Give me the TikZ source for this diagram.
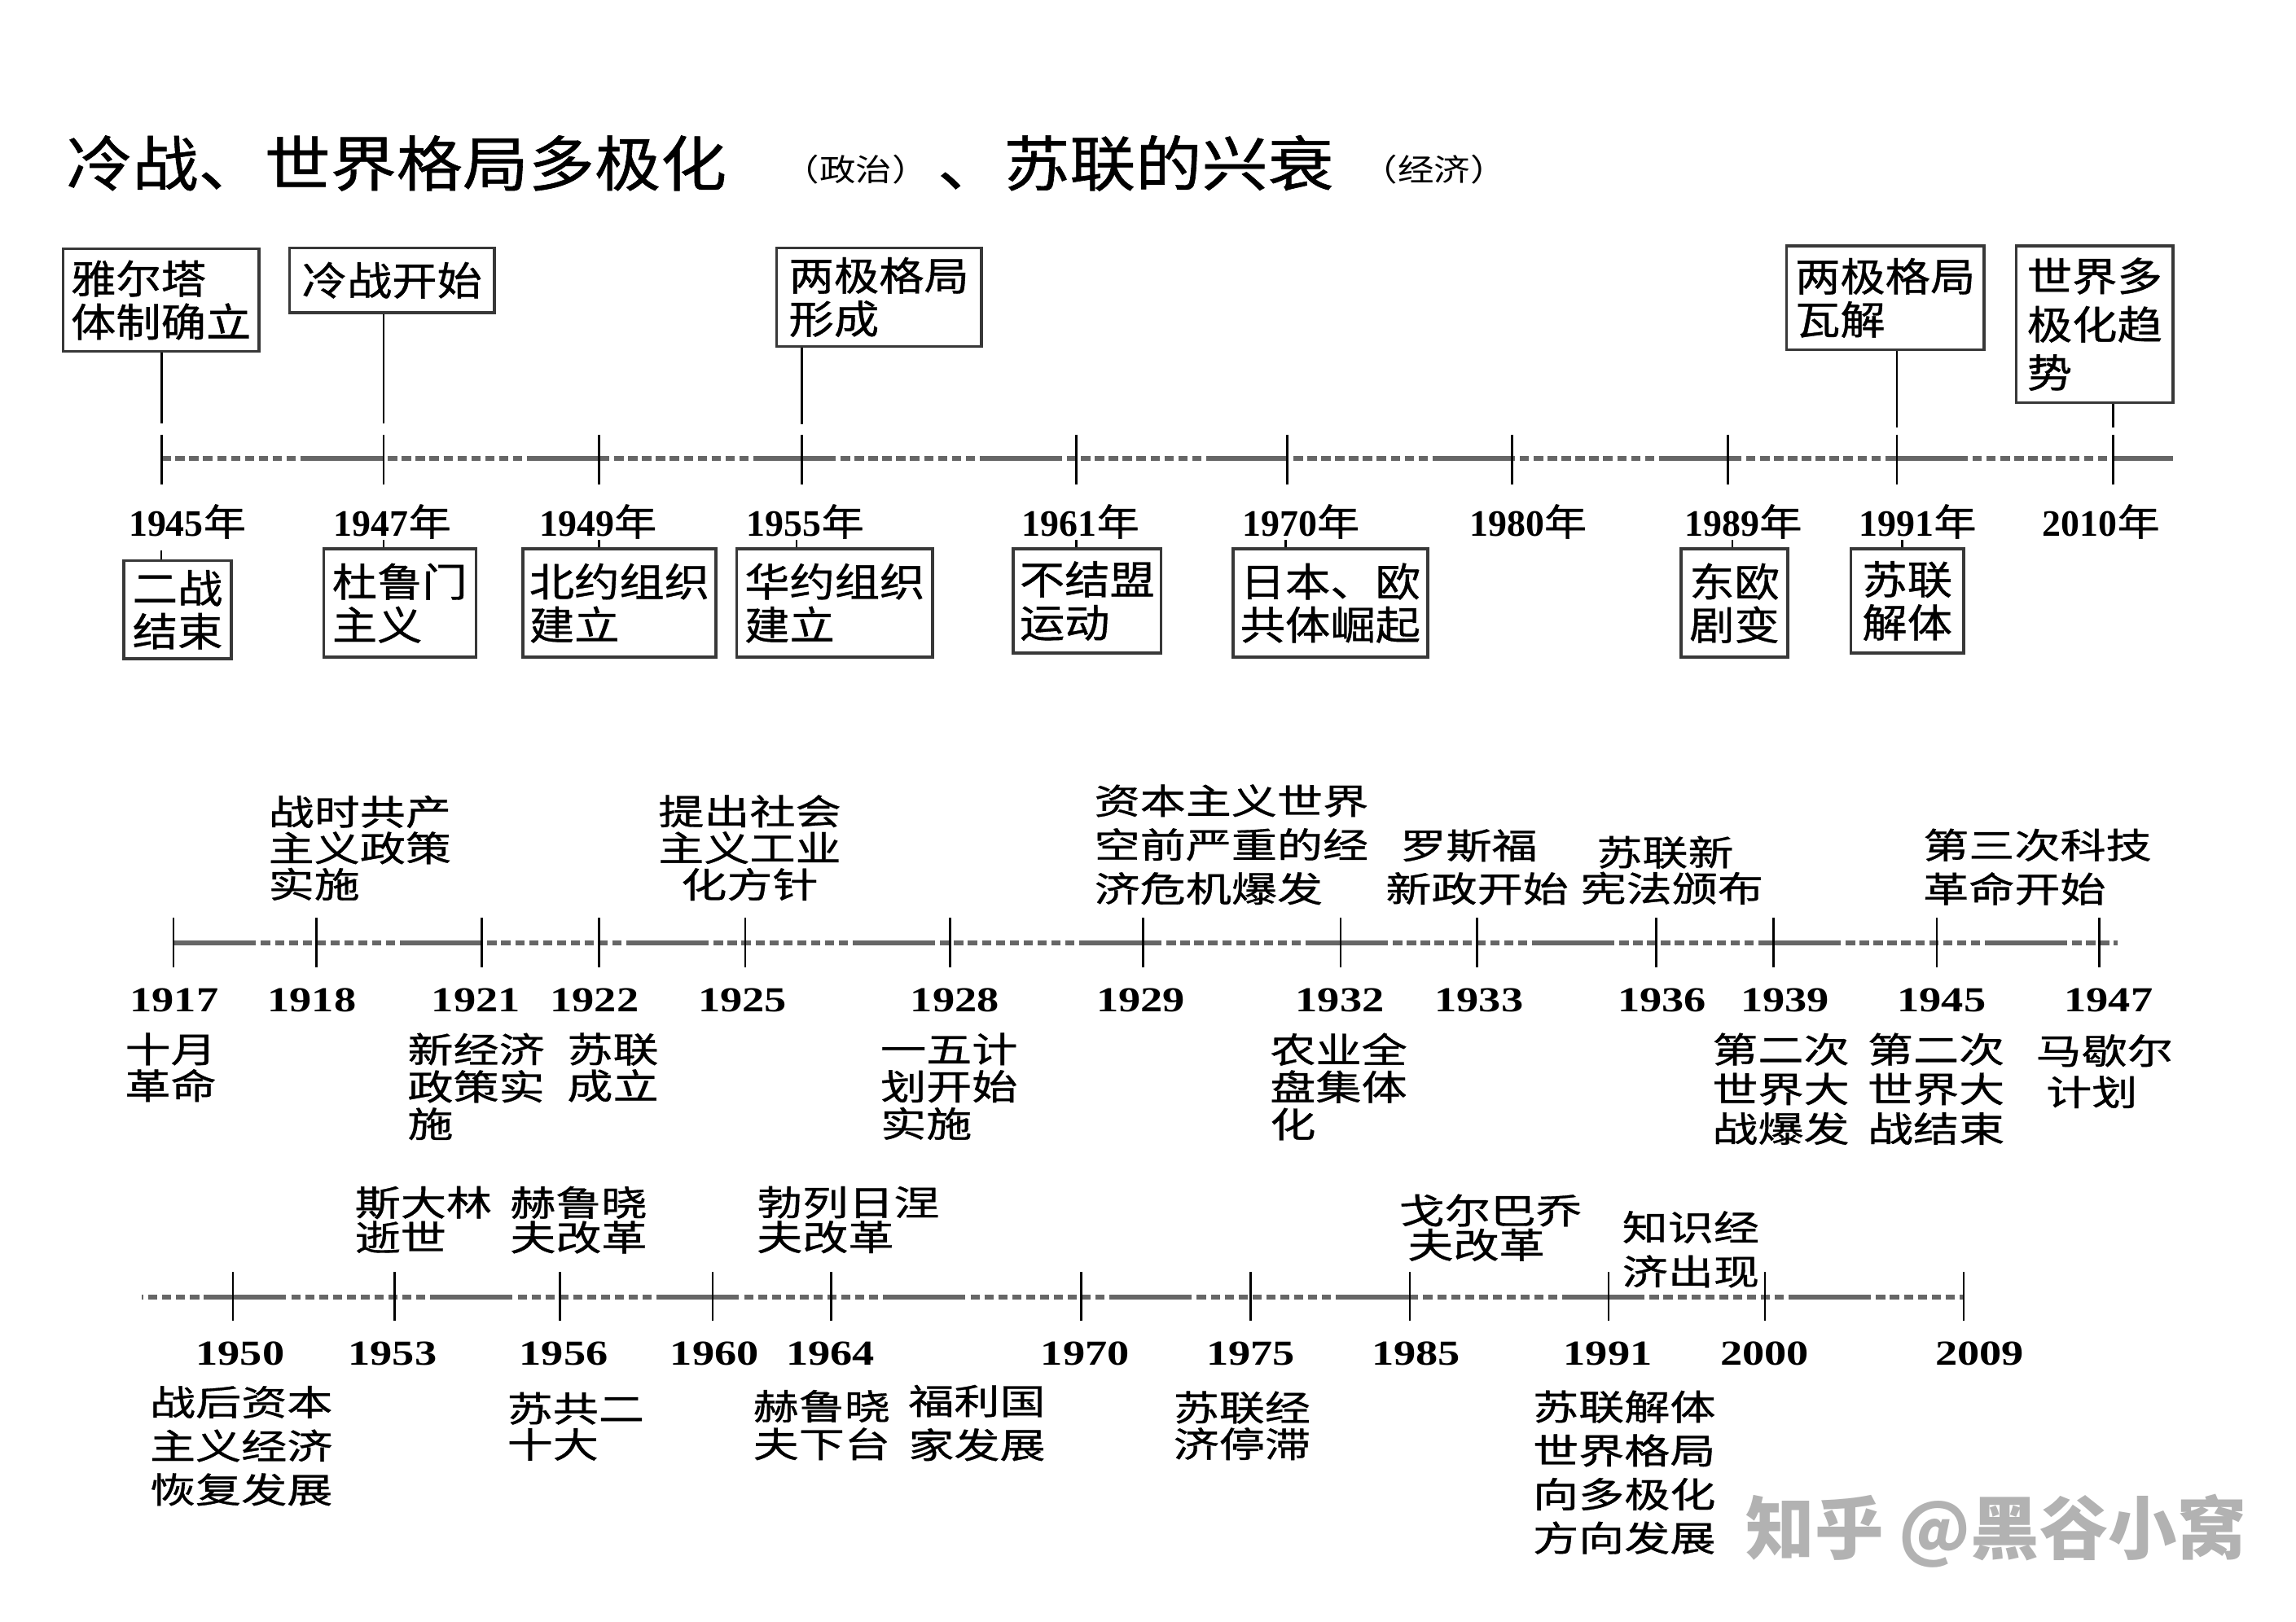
\documentclass[tikz,border=0pt]{standalone}
\usepackage{fontspec}
\setmainfont{Liberation Serif}
\newfontfamily\cjkT[FakeStretch=1.10,FakeBold=0.8]{Noto Sans CJK SC}
\newfontfamily\cjkS[FakeStretch=1.18]{Noto Sans CJK SC}
\newfontfamily\cjkA[FakeStretch=1.14,FakeBold=0.8]{Noto Sans CJK SC}
\newfontfamily\cjkB[FakeStretch=1.30,FakeBold=0.8]{Noto Sans CJK SC}
\newfontfamily\numA{Liberation Serif}
\newfontfamily\numB[FakeStretch=1.26]{Liberation Serif}
\newfontfamily\wmfont{Noto Sans CJK SC}
\begin{document}
\begin{tikzpicture}[x=0.02cm,y=-0.02cm,
  ttl/.style={inner sep=0pt, anchor=base west, font=\cjkT\fontsize{23.33pt}{28pt}\selectfont},
  ttls/.style={inner sep=0pt, anchor=base west, font=\cjkS\fontsize{11.95pt}{14pt}\selectfont},
  pbox/.style={draw=black!78, line width=1.1pt, inner sep=0pt, align=left, font=\cjkA\fontsize{15.36pt}{#1}\selectfont},
  pbox/.default=16.8pt,
  yrA/.style={inner sep=0pt, anchor=base, font=\numA\bfseries\fontsize{14.51pt}{16pt}\selectfont},
  yrB/.style={inner sep=0pt, anchor=base, font=\numB\bfseries\fontsize{13.66pt}{16pt}\selectfont},
  evt/.style={inner sep=0pt, align=left, anchor=north west, font=\cjkB\fontsize{13.66pt}{#1}\selectfont},
  evtc/.style={inner sep=0pt, align=center, anchor=north, font=\cjkB\fontsize{13.66pt}{#1}\selectfont},
  axisline/.style={line width=1.8pt, color=black!60, dash pattern=on 32pt off 2pt on 3.6pt off 1.8pt on 3.6pt off 1.8pt on 3.6pt off 1.8pt on 3.6pt off 1.8pt on 3.6pt off 1.8pt on 3.6pt off 1.8pt on 3.6pt off 1.8pt on 3.6pt off 1.8pt on 3.6pt off 1.8pt on 3.6pt off 1.8pt},
  tick/.style={line width=0.85pt, black},
  conn/.style={line width=0.8pt, black},
  wm/.style={inner sep=0pt, anchor=west, text=black!30, font=\wmfont\bfseries\fontsize{26.75pt}{30pt}\selectfont}
]
\useasboundingbox (0,0) rectangle (1568,1108);
\fill[white] (0,0) rectangle (1568,1108);

% ---------------- title ----------------
\node[ttl]  (T1) at (45,127)    {冷战、世界格局多极化};
\node[ttls] (T2) at (534.5,124) {（政治）};
\node[ttl]  (T3) at (640,127)   {、苏联的兴衰};
\node[ttls] (T4) at (929.5,124) {（经济）};

% ---------------- section 1: axis ----------------
\coordinate (A1s) at (110.3,313);
\coordinate (A1e) at (1484,313);
\draw[axisline, dash phase=34pt] (A1s) -- (A1e);
\foreach \x [count=\i] in {110.3,262,409,547.7,735,879,1032.5,1180,1295.5,1443}{
  \coordinate (TA\i) at (\x,313);
  \draw[tick] (TA\i) ++(0,-16) -- ++(0,34);
}

% top boxes
\node[pbox, minimum width=2.68cm, minimum height=1.40cm] (B1) at (110,205)    {雅尔塔\\体制确立};
\node[pbox, minimum width=2.80cm, minimum height=0.88cm] (B2) at (267.7,191.5) {冷战开始};
\node[pbox, minimum width=2.80cm, minimum height=1.35cm] (B3) at (600.3,203)  {两极格局\\形成};
\node[pbox, minimum width=2.70cm, minimum height=1.42cm] (B4) at (1287.5,203.5) {两极格局\\瓦解};
\node[pbox=18.78pt, minimum width=2.14cm, minimum height=2.14cm] (B5) at (1430.5,221.5) {世界多\\极化趋\\势};

\coordinate (U1) at (110.3,289);
\coordinate (U2) at (262,289);
\coordinate (U3) at (547.7,290);
\coordinate (U4) at (1295.5,292);
\coordinate (U5) at (1443,292);
\draw[conn] (B1.south -| U1) -- (U1);
\draw[conn] (B2.south -| U2) -- (U2);
\draw[conn] (B3.south -| U3) -- (U3);
\draw[conn] (B4.south -| U4) -- (U4);
\draw[conn] (B5.south -| U5) -- (U5);

% year labels
\node[yrA] (Y1)  at (128,366)    {1945{\cjkA\mdseries 年}};
\node[yrA] (Y2)  at (268,366)    {1947{\cjkA\mdseries 年}};
\node[yrA] (Y3)  at (408.5,366)  {1949{\cjkA\mdseries 年}};
\node[yrA] (Y4)  at (550,366)    {1955{\cjkA\mdseries 年}};
\node[yrA] (Y5)  at (738,366)    {1961{\cjkA\mdseries 年}};
\node[yrA] (Y6)  at (888.5,366)  {1970{\cjkA\mdseries 年}};
\node[yrA] (Y7)  at (1043.6,366) {1980{\cjkA\mdseries 年}};
\node[yrA] (Y8)  at (1190.6,366) {1989{\cjkA\mdseries 年}};
\node[yrA] (Y9)  at (1309.7,366) {1991{\cjkA\mdseries 年}};
\node[yrA] (Y10) at (1435,366)   {2010{\cjkA\mdseries 年}};

% bottom boxes
\node[pbox, minimum width=1.47cm, minimum height=1.34cm] (C1) at (121.3,416.5) {二战\\结束};
\node[pbox, minimum width=2.08cm, minimum height=1.48cm] (C2) at (273,412)   {杜鲁门\\主义};
\node[pbox, minimum width=2.64cm, minimum height=1.48cm] (C3) at (423,412)   {北约组织\\建立};
\node[pbox, minimum width=2.68cm, minimum height=1.48cm] (C4) at (570,412)   {华约组织\\建立};
\node[pbox, minimum width=2.02cm, minimum height=1.42cm] (C5) at (742.5,410.5) {不结盟\\运动};
\node[pbox, minimum width=2.66cm, minimum height=1.48cm] (C6) at (908.5,412) {日本、欧\\共体崛起};
\node[pbox, minimum width=1.46cm, minimum height=1.48cm] (C7) at (1184.5,412) {东欧\\剧变};
\node[pbox, minimum width=1.54cm, minimum height=1.42cm] (C8) at (1302.5,410.5) {苏联\\解体};

\coordinate (D1) at (110,376);
\coordinate (D2) at (262,369);
\coordinate (D3) at (409,369);
\coordinate (D4) at (544,369);
\coordinate (D5) at (735,369);
\coordinate (D6) at (878,369);
\coordinate (D7) at (1183,369);
\coordinate (D8) at (1299,369);
\draw[conn] (D1) -- (D1 |- C1.north);
\draw[conn] (D2) -- (D2 |- C2.north);
\draw[conn] (D3) -- (D3 |- C3.north);
\draw[conn] (D4) -- (D4 |- C4.north);
\draw[conn] (D5) -- (D5 |- C5.north);
\draw[conn] (D6) -- (D6 |- C6.north);
\draw[conn] (D7) -- (D7 |- C7.north);
\draw[conn] (D8) -- (D8 |- C8.north);

% ---------------- section 2 ----------------
\coordinate (A2s) at (118.5,644);
\coordinate (A2e) at (1446,644);
\draw[axisline] (A2s) -- (A2e);
\foreach \x [count=\i] in {118.5,216,329,409,509,649,780.7,915.5,1008.7,1131,1211,1322.6,1433.8}{
  \coordinate (TB\i) at (\x,644);
  \draw[tick] (TB\i) ++(0,-17) -- ++(0,34);
}

\node[evt=14.1pt]  (M1) at (183,543.1)   {战时共产\\主义政策\\实施};
\node[evtc=14.23pt] (M2) at (512,542.7)  {提出社会\\主义工业\\化方针};
\node[evt=17.07pt] (M3) at (747,535.5)   {资本主义世界\\空前严重的经\\济危机爆发};
\node[evt=16.8pt]  (M4) at (946,566.1)   {\hspace*{0.2cm}罗斯福\\新政开始};
\node[evt=14pt]    (M5) at (1079,570.7)  {\hspace*{0.22cm}苏联新\\宪法颁布};
\node[evt=17.07pt] (M6) at (1313,565.7)  {第三次科技\\革命开始};

\node[yrB] (Z1)  at (119,691)  {1917};
\node[yrB] (Z2)  at (213,691)  {1918};
\node[yrB] (Z3)  at (325,691)  {1921};
\node[yrB] (Z4)  at (406,691)  {1922};
\node[yrB] (Z5)  at (507,691)  {1925};
\node[yrB] (Z6)  at (652,691)  {1928};
\node[yrB] (Z7)  at (779,691)  {1929};
\node[yrB] (Z8)  at (915,691)  {1932};
\node[yrB] (Z9)  at (1010,691) {1933};
\node[yrB] (Z10) at (1135,691) {1936};
\node[yrB] (Z11) at (1219,691) {1939};
\node[yrB] (Z12) at (1326,691) {1945};
\node[yrB] (Z13) at (1440,691) {1947};

\node[evt=14.2pt]  (L1) at (85,705.3)    {十月\\革命};
\node[evt=14.5pt]  (L2) at (278,705.3)   {新经济\\政策实\\施};
\node[evt=14.2pt]  (L3) at (387,705.3)   {苏联\\成立};
\node[evt=14.5pt]  (L4) at (601,705.3)   {一五计\\划开始\\实施};
\node[evt=14.5pt]  (L5) at (867,705.3)   {农业全\\盘集体\\化};
\node[evt=15.4pt]  (L6) at (1169,705.3)  {第二次\\世界大\\战爆发};
\node[evt=15.4pt]  (L7) at (1275,705.3)  {第二次\\世界大\\战结束};
\node[evt=16.1pt]  (L8) at (1390,706.3)  {马歇尔\\\hspace*{0.14cm}计划};

% ---------------- section 3 ----------------
\coordinate (A3s) at (97,886);
\coordinate (A3e) at (1341,886);
\draw[axisline, dash phase=64pt] (A3s) -- (A3e);
\foreach \x [count=\i] in {159,269.6,382.4,486.7,567.6,738.5,854,962.8,1098.6,1205.3,1341}{
  \coordinate (TC\i) at (\x,886);
  \draw[tick] (TC\i) ++(0,-17) -- ++(0,33);
}

\node[evt=13.5pt]  (N1) at (242,810)     {斯大林\\逝世};
\node[evt=13.5pt]  (N2) at (348,810)     {赫鲁晓\\夫改革};
\node[evt=13.5pt]  (N3) at (516.5,810)   {勃列日涅\\夫改革};
\node[evt=13.4pt]  (N4) at (955,815.4)   {戈尔巴乔\\\hspace*{0.12cm}夫改革};
\node[evt=17.2pt]  (N5) at (1107.5,826.9) {知识经\\济出现};

\node[yrB] (X1)  at (164,932.6)  {1950};
\node[yrB] (X2)  at (268,932.6)  {1953};
\node[yrB] (X3)  at (385,932.6)  {1956};
\node[yrB] (X4)  at (488,932.6)  {1960};
\node[yrB] (X5)  at (567,932.6)  {1964};
\node[yrB] (X6)  at (741,932.6)  {1970};
\node[yrB] (X7)  at (854,932.6)  {1975};
\node[yrB] (X8)  at (967,932.6)  {1985};
\node[yrB] (X9)  at (1098,932.6) {1991};
\node[yrB] (X10) at (1205,932.6) {2000};
\node[yrB] (X11) at (1352,932.6) {2009};

\node[evt=17pt]    (P1) at (102,946.4)   {战后资本\\主义经济\\恢复发展};
\node[evt=14pt]    (P2) at (346,950.7)   {苏共二\\十大};
\node[evt=14.7pt]  (P3) at (514,949.1)   {赫鲁晓\\夫下台};
\node[evt=17.07pt] (P4) at (620,945.7)   {福利国\\家发展};
\node[evt=14.2pt]  (P5) at (801,950)     {苏联经\\济停滞};
\node[evt=17pt]    (P6) at (1046.5,949.5) {苏联解体\\世界格局\\向多极化\\方向发展};

% watermark
\node[wm] (W) at (1192,1046) {知乎 @黑谷小窝};
\end{tikzpicture}
\end{document}
